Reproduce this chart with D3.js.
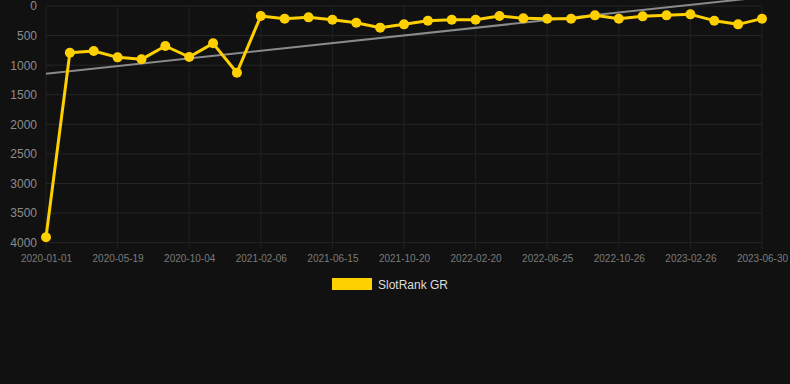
<!DOCTYPE html>
<html><head><meta charset="utf-8">
<script src="https://cdn.jsdelivr.net/npm/d3@7/dist/d3.min.js"></script>
<style>
html,body{margin:0;padding:0;background:#111111;}
svg{display:block;}
text{font-family:"Liberation Sans",Arial,Helvetica,sans-serif;}
</style></head>
<body><svg id="c" width="790" height="384"></svg>
<script>
const dates = ["2020-01-01","2020-02-16","2020-04-02","2020-05-19","2020-07-04","2020-08-19","2020-10-04","2020-11-14","2020-12-26","2021-02-06","2021-03-23","2021-05-02","2021-06-15","2021-07-27","2021-09-08","2021-10-20","2021-12-01","2022-01-10","2022-02-20","2022-04-02","2022-05-14","2022-06-25","2022-08-05","2022-09-15","2022-10-26","2022-12-06","2023-01-16","2023-02-26","2023-04-08","2023-05-19","2023-06-30"];
const rankValues = [3909,789,760,868,901,676,862,631,1127,169,214,192,231,282,366,310,248,231,231,169,209,214,214,158,214,175,158,141,248,310,214];
const yTicks = [0,500,1000,1500,2000,2500,3000,3500,4000];
const xTickLabels = ["2020-01-01","2020-05-19","2020-10-04","2021-02-06","2021-06-15","2021-10-20","2022-02-20","2022-06-25","2022-10-26","2023-02-26","2023-06-30"];
const seriesName = "SlotRank GR";

const svg = d3.select("#c");
const L = 46, R = 762, T = 6, B = 242.7;
const x = d3.scalePoint().domain(dates).range([L, R]);
const y = d3.scaleLinear().domain([0, 4000]).range([T, B]);

// grid
const grid = svg.append("g");
grid.selectAll("line.h").data(yTicks).join("line")
  .attr("x1", L).attr("x2", R).attr("y1", d => y(d)).attr("y2", d => y(d))
  .attr("stroke", "#262626").attr("stroke-width", 1);
grid.selectAll("line.v").data(xTickLabels).join("line")
  .attr("x1", d => x(d)).attr("x2", d => x(d)).attr("y1", T).attr("y2", B + 6)
  .attr("stroke", "#222222").attr("stroke-width", 1);

// y axis labels
const yAxis = d3.axisLeft(y).tickValues(yTicks).tickFormat(d3.format("d")).tickSize(0).tickPadding(9);
const ya = svg.append("g").attr("transform", `translate(${L},0)`).call(yAxis);
ya.select(".domain").remove();
ya.selectAll("text").attr("fill", "#8c8c8c").attr("font-size", 12);

// x axis labels
const xAxis = d3.axisBottom(x).tickValues(xTickLabels).tickSize(0).tickPadding(12);
const xa = svg.append("g").attr("transform", `translate(0,${B})`).call(xAxis);
xa.select(".domain").remove();
xa.selectAll("text").attr("fill", "#7a7a7a").attr("font-size", 10);

// trend line (least squares)
const n = rankValues.length;
const idx = d3.range(n);
const mx = d3.mean(idx), my = d3.mean(rankValues);
const slope = d3.sum(idx, i => (i - mx) * (rankValues[i] - my)) / d3.sum(idx, i => (i - mx) ** 2);
const icpt = my - slope * mx;
svg.append("line")
  .attr("x1", x(dates[0])).attr("y1", y(icpt))
  .attr("x2", x(dates[n - 1])).attr("y2", y(icpt + slope * (n - 1)))
  .attr("stroke", "#8a8a8a").attr("stroke-width", 2);

// series line
const line = d3.line().x((d, i) => x(dates[i])).y(d => y(d));
svg.append("path").datum(rankValues).attr("d", line)
  .attr("fill", "none").attr("stroke", "#FFD000").attr("stroke-width", 3).attr("stroke-linejoin", "round");
svg.append("g").selectAll("circle").data(rankValues).join("circle")
  .attr("cx", (d, i) => x(dates[i])).attr("cy", d => y(d)).attr("r", 5)
  .attr("fill", "#FFD000");

// legend
svg.append("rect").attr("x", 332).attr("y", 278).attr("width", 40).attr("height", 12).attr("fill", "#FFD000");
svg.append("text").attr("x", 378).attr("y", 288.5).attr("fill", "#dddddd").attr("font-size", 12).text(seriesName);
</script></body></html>
